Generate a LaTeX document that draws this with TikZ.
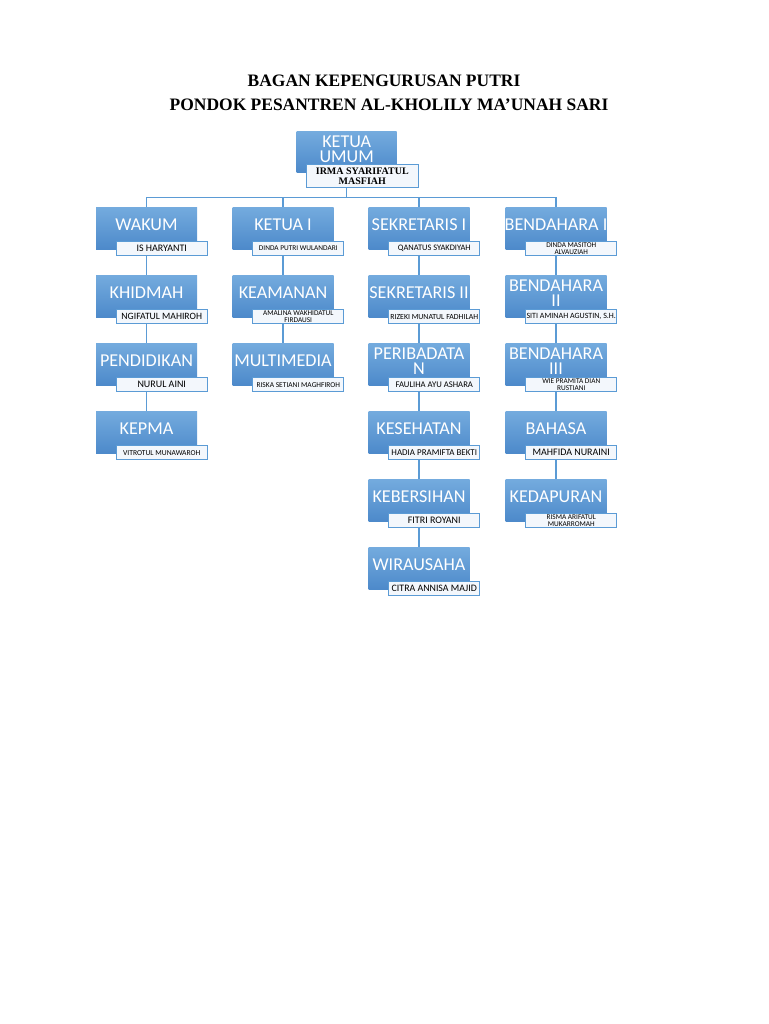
\documentclass[tikz,border=0pt]{standalone}
\usepackage{fontspec}
\setmainfont{Liberation Serif}
\newfontfamily\carlito{Carlito}
\usetikzlibrary{positioning, calc, backgrounds}

\definecolor{boxtop}{HTML}{74ABDE}
\definecolor{boxbot}{HTML}{4C89CA}
\definecolor{linecol}{HTML}{5B9BD5}
\definecolor{namefill}{HTML}{F3F7FC}

\begin{document}
\begin{tikzpicture}[x=0.75pt, y=-0.75pt,
        unit_box/.style={
            rectangle, top color=boxtop, bottom color=boxbot, minimum width=75.75pt, minimum height=32pt,
            inner sep=0pt, label={[box_text]center:{#1}}
        },
        box_text/.style={
            text=white, align=center, inner sep=0pt, yshift=2.6pt, font=\carlito\fontsize{13.6}{11.3}\selectfont
        },
        name_box/.style={
            draw=linecol, line width=0.8pt, fill=namefill, minimum width=68.25pt, minimum height=10.5pt,
            inner sep=0.5pt, align=center, anchor=north west, font=\carlito\fontsize{5.5}{5.3}\selectfont
        },
        name_big/.style={name_box, font=\carlito\fontsize{7.5}{7.5}\selectfont},
        fs/.style={font=\carlito\fontsize{#1}{#1}\selectfont},
        conn/.style={draw=linecol, line width=1pt}
    ]
    \useasboundingbox (0,0) rectangle (768,1024);

    % Title
    \node[anchor=base, font=\bfseries\fontsize{13.1}{15}\selectfont] (title1) at (384,86) {BAGAN KEPENGURUSAN PUTRI};
    \node[anchor=base, font=\bfseries\fontsize{13.1}{15}\selectfont] (title2) at (389,110.5) {PONDOK PESANTREN AL-KHOLILY MA’UNAH SARI};

    % Ketua umum
    \node[unit_box={KETUA\\UMUM}, minimum width=75pt, minimum height=31pt] (ketuaumum) at (346.7,152.3) {};
    \node[name_box, minimum width=84pt, minimum height=17.25pt, font=\bfseries\fontsize{7.5}{6.8}\selectfont] (ketuaumum_n) at ([xshift=7pt, yshift=6.75pt]ketuaumum.south west) {IRMA SYARIFATUL\\MASFIAH};

    % Column heads
    \node[unit_box={WAKUM}] (wakum) at (146.5,228.5) {};
    \node[unit_box={KETUA I}] (ketua1) at (283,228.5) {};
    \node[unit_box={SEKRETARIS I}] (sekretaris1) at (419,228.5) {};
    \node[unit_box={BENDAHARA I}] (bendahara1) at (556,228.5) {};

    % Column 1
    \node[unit_box={KHIDMAH}, below=18.6pt of wakum] (khidmah) {};
    \node[unit_box={PENDIDIKAN}, below=18.6pt of khidmah] (pendidikan) {};
    \node[unit_box={KEPMA}, below=18.6pt of pendidikan] (kepma) {};

    % Column 2
    \node[unit_box={KEAMANAN}, below=18.6pt of ketua1] (keamanan) {};
    \node[unit_box={MULTIMEDIA}, below=18.6pt of keamanan] (multimedia) {};

    % Column 3
    \node[unit_box={SEKRETARIS II}, below=18.6pt of sekretaris1] (sekretaris2) {};
    \node[unit_box={PERIBADATA\\N}, below=18.6pt of sekretaris2] (peribadatan) {};
    \node[unit_box={KESEHATAN}, below=18.6pt of peribadatan] (kesehatan) {};
    \node[unit_box={KEBERSIHAN}, below=18.6pt of kesehatan] (kebersihan) {};
    \node[unit_box={WIRAUSAHA}, below=18.6pt of kebersihan] (wirausaha) {};

    % Column 4
    \node[unit_box={BENDAHARA\\II}, below=18.6pt of bendahara1] (bendahara2) {};
    \node[unit_box={BENDAHARA\\III}, below=18.6pt of bendahara2] (bendahara3) {};
    \node[unit_box={BAHASA}, below=18.6pt of bendahara3] (bahasa) {};
    \node[unit_box={KEDAPURAN}, below=18.6pt of bahasa] (kedapuran) {};

    % Names
    \node[name_big] (wakum_n) at ([xshift=15pt, yshift=6.75pt]wakum.south west) {IS HARYANTI};
    \node[name_big, fs=7.25] (khidmah_n) at ([xshift=15pt, yshift=6.75pt]khidmah.south west) {NGIFATUL MAHIROH};
    \node[name_big] (pendidikan_n) at ([xshift=15pt, yshift=6.75pt]pendidikan.south west) {NURUL AINI};
    \node[name_box, fs=5.7] (kepma_n) at ([xshift=15pt, yshift=6.75pt]kepma.south west) {VITROTUL MUNAWAROH};

    \node[name_box] (ketua1_n) at ([xshift=15pt, yshift=6.75pt]ketua1.south west) {DINDA PUTRI WULANDARI};
    \node[name_box] (keamanan_n) at ([xshift=15pt, yshift=6.75pt]keamanan.south west) {AMALINA WAKHIDATUL\\FIRDAUSI};
    \node[name_box, fs=5.6] (multimedia_n) at ([xshift=15pt, yshift=6.75pt]multimedia.south west) {RISKA SETIANI MAGHFIROH};

    \node[name_box, fs=6.3] (sekretaris1_n) at ([xshift=15pt, yshift=6.75pt]sekretaris1.south west) {QANATUS SYAKDIYAH};
    \node[name_box, fs=5.85] (sekretaris2_n) at ([xshift=15pt, yshift=6.75pt]sekretaris2.south west) {RIZEKI MUNATUL FADHILAH};
    \node[name_box, fs=6.5] (peribadatan_n) at ([xshift=15pt, yshift=6.75pt]peribadatan.south west) {FAULIHA AYU ASHARA};
    \node[name_box, fs=6.7] (kesehatan_n) at ([xshift=15pt, yshift=6.75pt]kesehatan.south west) {HADIA PRAMIFTA BEKTI};
    \node[name_big] (kebersihan_n) at ([xshift=15pt, yshift=6.75pt]kebersihan.south west) {FITRI ROYANI};
    \node[name_big, fs=7.4] (wirausaha_n) at ([xshift=15pt, yshift=6.75pt]wirausaha.south west) {CITRA ANNISA MAJID};

    \node[name_box] (bendahara1_n) at ([xshift=15pt, yshift=6.75pt]bendahara1.south west) {DINDA MASITOH\\ALVAUZIAH};
    \node[name_box, fs=6.0] (bendahara2_n) at ([xshift=15pt, yshift=6.75pt]bendahara2.south west) {SITI AMINAH AGUSTIN, S.H.};
    \node[name_box] (bendahara3_n) at ([xshift=15pt, yshift=6.75pt]bendahara3.south west) {WIE PRAMITA DIAN\\RUSTIANI};
    \node[name_big] (bahasa_n) at ([xshift=15pt, yshift=6.75pt]bahasa.south west) {MAHFIDA NURAINI};
    \node[name_box] (kedapuran_n) at ([xshift=15pt, yshift=6.75pt]kedapuran.south west) {RISMA ARIFATUL\\MUKARROMAH};

    % Connectors
    \begin{scope}[on background layer]
        \coordinate (bus) at ([yshift=-18pt]ketuaumum.south);
        \draw[conn] (ketuaumum.south) -- (bus);
        \foreach \h in {wakum, ketua1, sekretaris1, bendahara1}
            \draw[conn] (bus) -| (\h.north);
        \foreach \a/\b in {wakum/khidmah, khidmah/pendidikan, pendidikan/kepma,
                           ketua1/keamanan, keamanan/multimedia,
                           sekretaris1/sekretaris2, sekretaris2/peribadatan, peribadatan/kesehatan,
                           kesehatan/kebersihan, kebersihan/wirausaha,
                           bendahara1/bendahara2, bendahara2/bendahara3, bendahara3/bahasa, bahasa/kedapuran}
            \draw[conn] (\a.south) -- (\b.north);
    \end{scope}

\end{tikzpicture}
\end{document}
